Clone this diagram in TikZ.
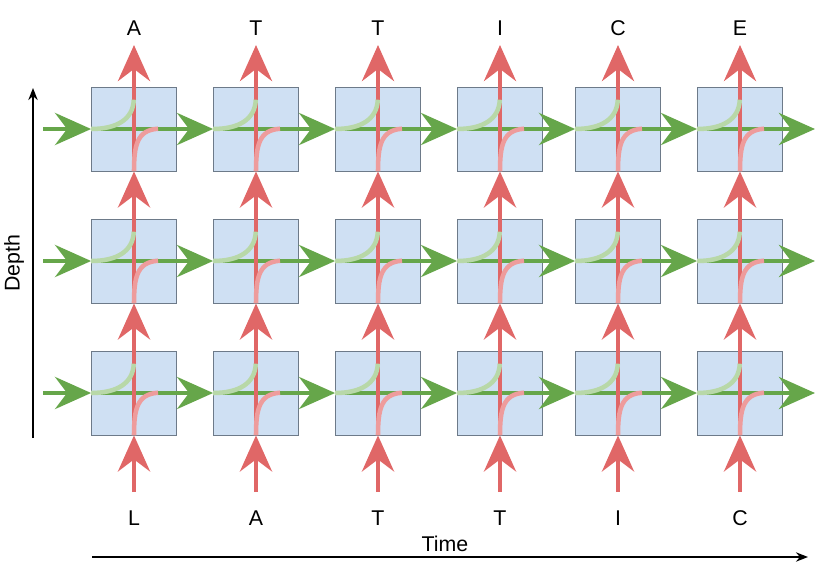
\documentclass[tikz,border=0pt]{standalone}
\usepackage{fontspec}
\setmainfont{Liberation Sans}
\usetikzlibrary{arrows.meta}
\definecolor{boxfill}{HTML}{CFE0F3}
\definecolor{boxdraw}{HTML}{6D7A89}
\definecolor{grn}{HTML}{66A64A}
\definecolor{rd}{HTML}{E06767}
\definecolor{lgrn}{HTML}{B8D8A8}
\definecolor{lrd}{HTML}{EE9C9C}
\tikzset{
  cell/.style={draw=boxdraw,fill=boxfill,line width=0.6pt,minimum width=63.75pt,minimum height=63pt,inner sep=0pt},
  garr/.style={draw=grn,line width=3.6pt,-{Stealth[length=27pt,width=24pt,inset=9pt]}},
  rarr/.style={draw=rd,line width=3.6pt,-{Stealth[length=27pt,width=24pt,inset=9pt]}},
  gcurve/.style={draw=lgrn,line width=3.4pt},
  rcurve/.style={draw=lrd,line width=3.4pt},
  lbl/.style={font=\fontsize{16}{18}\selectfont,inner sep=0pt},
  axis/.style={draw=black,line width=1.4pt,-{Stealth[length=9pt,width=7pt]}}
}
\begin{document}
\begin{tikzpicture}[x=0.75pt,y=-0.75pt]
\useasboundingbox (0,0) rectangle (832,575);
\def\cols{134,256,378,500,618,740}
% boxes
\foreach \x [count=\c] in \cols {
  \foreach \y [count=\r] in {129,261,393} {
    \node[cell] (b\c\r) at (\x,\y) {};
  }
}
% green arrows
\foreach \y [count=\r] in {129,261,393} {
  \coordinate (gs\r) at (43,\y);
  \coordinate (ge\r) at (815,\y);
  \draw[garr] (gs\r) -- (b1\r.west);
  \foreach \c [evaluate=\c as \n using int(\c+1)] in {1,...,5} {
    \draw[garr] (b\c\r.west) -- (b\n\r.west);
  }
  \draw[garr] (b6\r.west) -- (ge\r);
}
% red arrows
\foreach \x [count=\c] in \cols {
  \coordinate (rs\c) at (\x,492);
  \coordinate (re\c) at (\x,45);
  \draw[rarr] (rs\c) -- (b\c3.south);
  \draw[rarr] (b\c3.south) -- (b\c2.south);
  \draw[rarr] (b\c2.south) -- (b\c1.south);
  \draw[rarr] (b\c1.south) -- (re\c);
}
% curves
\foreach \c in {1,...,6} {
  \foreach \r in {1,2,3} {
    \draw[gcurve] (b\c\r.west) .. controls ([xshift=19pt]b\c\r.west) and ([xshift=31.5pt,yshift=7pt]b\c\r.west) .. ([xshift=32pt,yshift=22pt]b\c\r.west);
    \draw[rcurve] (b\c\r.south) .. controls ([yshift=19pt]b\c\r.south) and ([xshift=2pt,yshift=31pt]b\c\r.south) .. ([xshift=18pt,yshift=32pt]b\c\r.south);
  }
}
% labels
\foreach \t [count=\c] in {A,T,T,I,C,E} {
  \node[lbl] (top\c) at ({{134,256,378,500,618,740}[\c-1]},28) {\t};
}
\foreach \t [count=\c] in {L,A,T,T,I,C} {
  \node[lbl] (bot\c) at ({{134,256,378,500,618,740}[\c-1]},518) {\t};
}
% axes
\coordinate (d0) at (33,438);
\coordinate (d1) at (33,88);
\draw[axis] (d0) -- (d1);
\node[lbl,rotate=90] (depth) at (14,263) {Depth};
\coordinate (t0) at (92,557);
\coordinate (t1) at (808,557);
\draw[axis] (t0) -- (t1);
\node[lbl] (time) at (445,544) {Time};
\end{tikzpicture}
\end{document}
